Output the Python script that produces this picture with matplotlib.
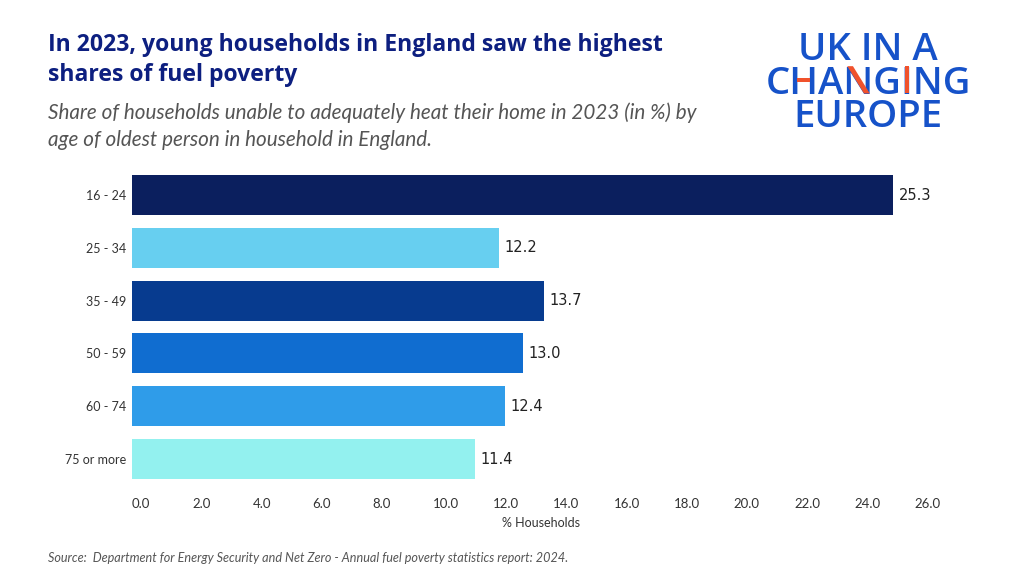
import matplotlib
matplotlib.use("Agg")
import matplotlib.pyplot as plt
from matplotlib.ticker import FixedLocator
from matplotlib.patches import Rectangle, Polygon

categories = ["16 - 24", "25 - 34", "35 - 49", "50 - 59", "60 - 74", "75 or more"]
values = [25.3, 12.2, 13.7, 13.0, 12.4, 11.4]
colors = ["#0b1f5e", "#67cff0", "#073b8f", "#106dd0", "#2f9ce9", "#93f1ef"]
xticks = [0, 2, 4, 6, 8, 10, 12, 14, 16, 18, 20, 22, 24, 26]

plt.rcParams['font.family'] = ['Lato', 'DejaVu Sans']

W, H = 1024, 576
fig = plt.figure(figsize=(10.24, 5.76), dpi=100)
ax = fig.add_axes([132/W, 1-485.4/H, (950-132)/W, (485.4-168.6)/H])

y = list(range(len(categories)))
ax.barh(y, values, height=0.76, color=colors)
ax.set_ylim(5.5, -0.5)
ax.set_xlim(0, 27.18)
ax.set_yticks(y)
ax.set_yticklabels(categories, fontsize=9, color="#333333")
ax.xaxis.set_major_locator(FixedLocator(xticks))
ax.set_xticklabels([f"{t:.1f}" for t in xticks], fontsize=9.5, color="#333333", ha="left")
ax.tick_params(axis="y", length=0, pad=4)
ax.tick_params(axis="x", length=0, pad=9)
for s in ax.spines.values():
    s.set_visible(False)
ax.set_xlabel("% Households", fontsize=9, color="#333333", labelpad=5)

for yi, v in zip(y, values):
    ax.text(v + 0.17, yi, f"{v:.1f}", va="center", ha="left", fontsize=10.5,
            color="#222222", family=["DejaVu Sans"])

# Title & subtitle
tf = dict(fontsize=16.6, fontweight="bold", color="#0d1f80", va="center",
          family=["Open Sans", "DejaVu Sans"])
fig.text(48/W, 1-45/H, "In 2023, young households in England saw the highest", **tf)
fig.text(48/W, 1-75/H, "shares of fuel poverty", **tf)
fig.text(48/W, 1-113/H, "Share of households unable to adequately heat their home in 2023 (in %) by",
         fontsize=14.9, fontstyle="italic", color="#555555", va="center")
fig.text(48/W, 1-140/H, "age of oldest person in household in England.",
         fontsize=14.9, fontstyle="italic", color="#555555", va="center")

fig.text(48/W, 1-558/H, "Source:  Department for Energy Security and Net Zero - Annual fuel poverty statistics report: 2024.",
         fontsize=9.1, fontstyle="italic", color="#555555", va="center")

# Logo
blue = "#1652c9"
red = "#f0522c"
lfs = 27.5
lf = dict(fontsize=lfs, fontweight="semibold", family=["Open Sans", "DejaVu Sans"])
cx = 868
base3 = 127
logo = fig.text(cx/W, 1-base3/H, "UK IN A\nCHANGING\nEUROPE", color=blue, ha="center",
                va="baseline", multialignment="center", linespacing=0.84, **lf)
fig.canvas.draw()
r = fig.canvas.get_renderer()

def wid(s):
    t = fig.text(0, 0, s, **lf)
    w = t.get_window_extent(r).width
    t.remove()
    return w

E = lfs * 100 / 72
cap = 0.714 * E
step = 0.24 * E + 0.84 * (0.76 * E)
base2 = base3 - step  # pixels from top
left2 = cx - wid("CHANGING") / 2
adv_i = wid("I")
stem = 0.36 * adv_i
sb = (adv_i - stem) / 2
top = 1 - (base2 - cap) / H
bot = 1 - base2 / H
# red I
i_right = left2 + wid("CHANGI") - sb
fig.add_artist(Rectangle(((i_right - stem) / W, bot), stem / W, cap / H,
                         transform=fig.transFigure, color=red, lw=0, zorder=10))
# red N diagonal
n_right = left2 + wid("CHAN") - sb
n_left = left2 + wid("CHA") + sb
dw = stem * 1.35
fig.add_artist(Polygon([(n_left / W, top), ((n_left + dw) / W, top),
                        (n_right / W, bot), ((n_right - dw) / W, bot)],
                       closed=True, transform=fig.transFigure, color=red, lw=0, zorder=10))
# red H crossbar
h_right = left2 + wid("CH") - sb
h_left = left2 + wid("C") + sb
bar_h = stem * 0.95
fig.add_artist(Rectangle(((h_left + stem) / W, bot + (cap * 0.51 - bar_h / 2) / H),
                         (h_right - h_left - 2 * stem) / W, bar_h / H,
                         transform=fig.transFigure, color=red, lw=0, zorder=10))

fig.savefig("out.png", dpi=100, facecolor="white")
